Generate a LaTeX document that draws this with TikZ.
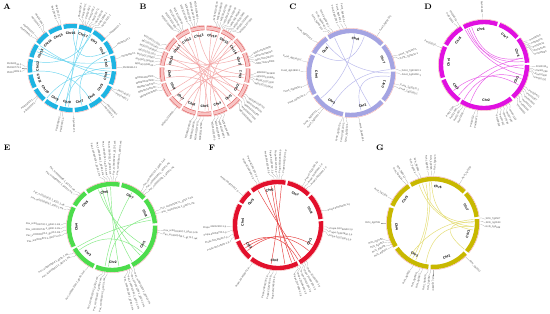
\documentclass[tikz,border=0pt]{standalone}
\usepackage{fontspec}
\setsansfont{Liberation Sans}

\definecolor{ringA}{RGB}{30,180,226}
\definecolor{linkA}{RGB}{110,214,240}
\definecolor{ringB}{RGB}{248,196,196}
\definecolor{edgeB}{RGB}{226,104,104}
\definecolor{linkB}{RGB}{244,168,168}
\definecolor{ringC}{RGB}{164,164,226}
\definecolor{linkC}{RGB}{184,184,236}
\definecolor{ringD}{RGB}{224,16,224}
\definecolor{linkD}{RGB}{232,90,232}
\definecolor{ringE}{RGB}{76,220,76}
\definecolor{linkE}{RGB}{130,234,130}
\definecolor{ringF}{RGB}{226,16,44}
\definecolor{linkF}{RGB}{230,60,60}
\definecolor{ringG}{RGB}{200,184,0}
\definecolor{linkG}{RGB}{228,220,112}
\definecolor{edgepink}{RGB}{240,150,150}

\newcommand{\chrseg}[3]{%
  \pgfmathsetmacro{\rout}{\rr+2.7}%
  \pgfmathsetmacro{\rlab}{\rr-7.5}%
  \pgfmathsetmacro{\cmid}{(#1+#2)/2}%
  \pgfmathsetmacro{\crot}{sin(\cmid)>=0 ? \cmid-90 : \cmid+90}%
  \draw[band] (#1:\rr) arc[start angle=#1, end angle=#2, radius=\rr];%
  \draw[bandedge] (#1:\rout) arc[start angle=#1, end angle=#2, radius=\rout];%
  \node[chrlab, rotate=\crot] (\pn#3) at (\cmid:\rlab) {#3};}

\newcommand{\genelab}[4]{%
  \pgfmathsetmacro{\ga}{\rr+2.7}%
  \pgfmathsetmacro{\gb}{\rr+5}%
  \pgfmathsetmacro{\gd}{\rr+8.5}%
  \pgfmathsetmacro{\gcos}{cos(#1)}%
  \draw[gline] (#2:\ga) -- (#2:\gb) -- (#1:\gd);%
  \ifdim\gcos pt<0pt
    \node[gtext, anchor=east, rotate=#1+180] (#4) at (#1:\gd) {#3};%
  \else
    \node[gtext, anchor=west, rotate=#1] (#4) at (#1:\gd) {#3};%
  \fi}

\newcommand{\chord}[2]{%
  \pgfmathsetmacro{\ri}{\rr-3.2}%
  \pgfmathsetmacro{\rk}{\rr*0.3}%
  \draw[link] (#1:\ri) .. controls (#1:\rk) and (#2:\rk) .. (#2:\ri);}

\tikzset{
  band/.style={line width=4.4},
  bandedge/.style={line width=0.25, draw=edgepink},
  chrlab/.style={font=\sffamily\bfseries\fontsize{3.4}{4}\selectfont, inner sep=0},
  gtext/.style={font=\sffamily\fontsize{2.5}{3}\selectfont, text=black!70, inner sep=0.2pt},
  gline/.style={draw=black!40, line width=0.15},
  link/.style={line width=0.45},
  panel/.style={font=\fontsize{8}{9}\selectfont\bfseries, inner sep=0}
}

\begin{document}
\begin{tikzpicture}[x=1bp,y=1bp]
\useasboundingbox[fill=white] (0,0) rectangle (550,313);

\node[panel] (lbA) at (7,306) {A};
\node[panel] (lbB) at (143,306) {B};
\node[panel] (lbC) at (293,306) {C};
\node[panel] (lbD) at (428,306) {D};
\node[panel] (lbE) at (7,165) {E};
\node[panel] (lbF) at (212,165) {F};
\node[panel] (lbG) at (380,165) {G};

\begin{scope}[shift={(72,245)}, band/.append style={draw=ringA}, link/.append style={draw=linkA}]
\def\rr{42}\def\pn{A}
\foreach \a/\b in {150/-5, 145/-15, 155/10, 70/-100, 62/-115, 80/-95, -10/-130, 20/-75, 88/25, 185/-60, 170/60, 0/-100}
  {\chord{\a}{\b}}
\foreach \k in {1,...,17}{
  \pgfmathsetmacro{\m}{50-(\k-1)*360/17}
  \chrseg{\m+9.1}{\m-9.1}{Chr\k}}
\foreach \la/\ra/\t [count=\n] in {82/77/10234, 78/75/10876, 74/73/11452, 70/71/12031, 66/68/12577, 62/66/13108, 58/63/13690, 54/60/14215,
  104/104/20117, 108/107/20563, 124/127/31008, 128/129/31442, 138/139/35520, 142/141/35981,
  176/178/40216, 180/180/40773, 184/182/41295, -137/-139/52204, -141/-141/52810,
  -100/-102/60431, -104/-104/60998, -88/-88/62117, -46/-47/70340, -50/-50/70872, -26/-27/74105, -30/-29/74662,
  42/42/80015, 27/26/81233, 13/12/82560, 0/1/83114}
  {\genelab{\la}{\ra}{Pbr0\t.1}{g\pn\n}}
\end{scope}

\begin{scope}[shift={(205,242)}, band/.append style={draw=edgeB, postaction={draw=ringB, line width=3}}, link/.append style={draw=linkB}]
\def\rr{43}\def\pn{B}
\foreach \a/\b in {145/-20, 140/-40, 130/-60, 120/-85, 110/-100, 100/-30, 60/-110, 50/-130, 40/-150, 30/180, 20/160, 10/-120, -10/-140, -50/-170, 80/-70, 70/-90, 160/-60, 170/-30, -5/135, 45/-80}
  {\chord{\a}{\b}}
\foreach \k in {1,...,17}{
  \pgfmathsetmacro{\m}{-6-(\k-1)*360/17}
  \chrseg{\m+9.1}{\m-9.1}{Chr\k}}
\foreach \la/\ra/\t [count=\n] in {98/100/13G1045200, 102/103/13G1067500, 106/105/13G1110300, 110/108/12G1002100,
  116/118/12G1133600, 120/120/12G1187400, 124/122/11G1021900, 128/124/11G1105600,
  80/76/15G1042100, 76/74/15G1068300, 72/72/15G1120700, 68/70/15G1183500, 64/68/15G1231000, 60/66/15G1302400, 56/63/15G1355800, 52/60/16G1012600, 48/57/16G1077900,
  20/18/17G1020500, 16/16/17G1098400, 12/14/17G1154200, 8/12/17G1210900,
  -2/-4/01G1041600, -6/-6/01G1103800, -10/-8/01G1172300, -14/-10/01G1255400,
  -32/-30/02G1033700, -36/-33/02G1098100, -40/-36/03G1015200, -44/-40/03G1077400, -48/-44/03G1160900,
  -70/-66/04G1044300, -74/-70/04G1109600, -78/-74/04G1188200, -82/-78/05G1020700,
  -94/-92/05G1132500, -98/-96/05G1197100, -102/-100/06G1028400, -106/-104/06G1090300, -128/-128/07G1119800,
  -158/-156/08G1030600, -162/-160/08G1094200, -166/-164/08G1158700, -170/-168/09G1026900, -174/-171/09G1081500,
  150/146/11G1237100, 154/152/10G1012400, 158/157/10G1063800, 162/161/10G1117200, 166/165/10G1178900, 170/168/10G1236500, 174/172/10G1290100}
  {\genelab{\la}{\ra}{MD\t}{g\pn\n}}
\end{scope}

\begin{scope}[shift={(351,240)}, band/.append style={draw=ringC}, link/.append style={draw=linkC}]
\def\rr{42}\def\pn{C}
\foreach \a/\b in {130/0, 85/-140, 70/150, -5/-75, 5/-120, 115/-60}
  {\chord{\a}{\b}}
\foreach \s/\e/\c in {122/43/Chr6, 40/5/Chr7, 2/-40/Chr1, -43/-98/Chr2, -101/-147/Chr3, -150/-205/Chr4, -208/-235/Chr5}
  {\chrseg{\s}{\e}{\c}}
\foreach \la/\ra/\t [count=\n] in {98/96/6g10230, 102/100/6g11470, 106/104/6g12350, 116/114/6g15820, 120/117/6g16540, 124/119/5g00510, 140/138/5g03210,
  55/55/6g43210, 20/22/7g01230, 16/20/7g02110, 2/4/7g30120, -2/0/1g00450, -14/-14/1g20670, -18/-17/1g21890,
  166/166/4g03420, 178/178/4g12890, 196/195/4g28610, 206/204/4g33210, -128/-128/3g14520, -132/-131/3g15670,
  -94/-96/2g53210, -98/-99/3g01240, -102/-101/3g02370, -80/-80/2g40560}
  {\genelab{\la}{\ra}{FvH4\_\t.1}{g\pn\n}}
\end{scope}

\begin{scope}[shift={(484,248)}, band/.append style={draw=ringD}, link/.append style={draw=linkD}]
\def\rr{43}\def\pn{D}
\foreach \a/\b in {115/5, 112/-5, 118/-15, 108/10, -20/-120, -30/-140, 10/-130, 0/-110}
  {\chord{\a}{\b}}
\foreach \s/\e/\c in {118/72/Chr6, 69/40/Chr7, 37/3/Chr8, 0/-48/Chr1, -51/-122/Chr2, -125/-160/Chr3, -163/-205/Chr4, -208/-239/Chr5}
  {\chrseg{\s}{\e}{\c}}
\foreach \la/\ra/\t [count=\n] in {92/92/21034, 122/122/18562, 126/125/18911, 158/158/16220,
  28/30/24510, 24/28/24876, 20/26/25012, 16/24/25340, 12/22/25893,
  -2/-2/01103, -6/-4/01256, -10/-6/01490, -14/-8/01732,
  -30/-28/03421, -34/-31/03567, -38/-34/03890, -42/-38/04122, -46/-42/04356, -50/-45/04601,
  -60/-57/07123, -64/-61/07340, -68/-65/07589, -72/-69/07812, -76/-73/08034,
  -98/-98/09871, -102/-101/10112, -114/-114/11230, -118/-117/11467, -122/-120/11890, -126/-123/12145}
  {\genelab{\la}{\ra}{Pm0\t}{g\pn\n}}
\end{scope}

\begin{scope}[shift={(112,86)}, band/.append style={draw=ringE}, link/.append style={draw=linkE}]
\def\rr{43}\def\pn{E}
\foreach \a/\b in {105/-45, 98/-60, 92/-80, 15/-95, -150/10, -145/-40, 60/-100, 110/-30}
  {\chord{\a}{\b}}
\foreach \s/\e/\c in {125/80/Chr6, 77/42/Chr7, 39/5/Chr8, 2/-62/Chr1, -65/-112/Chr2, -115/-150/Chr3, -153/-207/Chr4, -210/-232/Chr5}
  {\chrseg{\s}{\e}{\c}}
\foreach \la/\ra/\t [count=\n] in {84/86/0163.1\_g340, 88/88/0204.1\_g120, 92/90/0311.1\_g050, 96/93/0347.1\_g210, 100/96/0412.1\_g080, 104/99/0519.1\_g160,
  136/134/0086.1\_g270, 140/137/0097.1\_g020, 156/155/0611.1\_g110, 160/158/0688.1\_g300,
  178/176/0702.1\_g060, 182/180/0745.1\_g190, 186/184/0803.1\_g230, 190/188/0876.1\_g140,
  -144/-142/0911.1\_g070, -148/-146/0954.1\_g250, -122/-121/1020.1\_g030,
  -98/-96/1106.1\_g180, -102/-99/1147.1\_g090, -106/-102/1189.1\_g310,
  -64/-62/1203.1\_g040, -68/-65/1256.1\_g220, -72/-68/1290.1\_g130, -76/-71/1334.1\_g280,
  -4/-4/1402.1\_g100, -8/-7/1455.1\_g170, 16/17/1511.1\_g240, 20/20/1567.1\_g010,
  44/45/1620.1\_g330, 48/48/1689.1\_g150, 52/51/1723.1\_g260}
  {\genelab{\la}{\ra}{Pav\_sc0000\t.1.mk}{g\pn\n}}
\end{scope}

\begin{scope}[shift={(278,88)}, band/.append style={draw=ringF}, link/.append style={draw=linkF}]
\def\rr{43}\def\pn{F}
\foreach \a/\b in {110/-65, 100/-80, 95/-70, 120/-55, -145/-40, -140/-30, -150/-60, 85/-100}
  {\chord{\a}{\b}}
\foreach \s/\e/\c in {127/80/Chr6, 77/45/Chr7, 42/8/Chr8, 5/-60/Chr1, -63/-128/Chr2, -131/-158/Chr3, -161/-208/Chr4, -211/-229/Chr5}
  {\chrseg{\s}{\e}{\c}}
\foreach \la/\ra/\t [count=\n] in {84/86/6G010200, 88/88/6G034500, 92/90/6G112300, 96/92/6G187600, 100/95/6G245100,
  114/114/6G301200, 118/117/6G338900, 140/140/5G012300, 50/52/7G023400, 54/55/7G067800, 58/58/7G110200,
  16/18/8G091200, -4/-2/1G034500, -8/-5/1G067800, -12/-8/1G120300,
  -56/-52/1G456700, -60/-55/1G498200, -64/-58/2G012300, -68/-62/2G045600, -72/-65/2G078900,
  -94/-92/2G234500, -98/-96/2G267800, -102/-100/2G301200, -124/-124/2G345600,
  182/182/4G012300, 188/187/4G056700, 194/192/4G123400, 200/196/4G178900}
  {\genelab{\la}{\ra}{Prupe.\t.1.p}{g\pn\n}}
\end{scope}

\begin{scope}[shift={(433,90)}, band/.append style={draw=ringG}, link/.append style={draw=linkG}]
\def\rr{44}\def\pn{G}
\foreach \a/\b in {105/0, 110/-5, 95/-115, 100/-120, 5/-125, -5/-100, 2/-40, 92/-10}
  {\chord{\a}{\b}}
\foreach \s/\e/\c in {120/45/Chr6, 42/8/Chr7, 5/-40/Chr1, -43/-93/Chr2, -96/-145/Chr3, -148/-200/Chr4, -203/-237/Chr5}
  {\chrseg{\s}{\e}{\c}}
\foreach \la/\ra/\t [count=\n] in {88/89/6g0123, 92/92/6g0345, 96/95/6g0567, 106/105/6g0891, 110/108/6g1023, 122/122/5g0412, 126/125/5g0634,
  150/150/5g1256, 180/180/4g0789, 56/56/7g0234, 4/6/7g1567, 0/2/1g0123, -4/-2/1g0345, -46/-46/1g2012,
  -90/-90/2g1890, -94/-93/3g0012, -98/-96/3g0145, -104/-103/3g0367, -108/-106/3g0589, -116/-115/3g0812,
  -150/-150/4g2301, -154/-153/4g2456, -158/-156/4g2612, -162/-159/4g2789}
  {\genelab{\la}{\ra}{Rchi\_\t}{g\pn\n}}
\end{scope}
\end{tikzpicture}
\end{document}
